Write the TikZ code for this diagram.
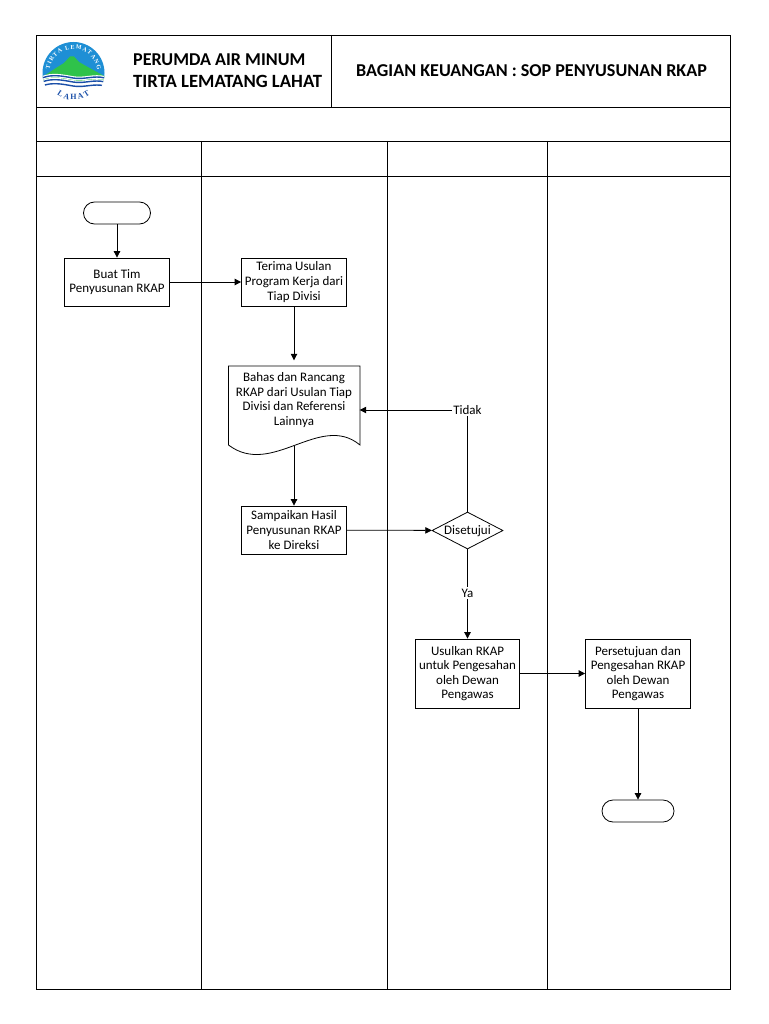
\documentclass[tikz,border=0pt]{standalone}
\usepackage{fontspec}
\setmainfont{Carlito}
\newfontfamily\logofont{Liberation Serif}
\usetikzlibrary{shapes.geometric,shapes.misc,arrows.meta,decorations.text}
\definecolor{logoblue}{HTML}{1E8FD5}
\definecolor{logogreen}{HTML}{2FC24A}
\definecolor{wavedark}{HTML}{1A4FA8}
\tikzset{
  grid/.style={draw=black,line width=0.8pt},
  flowbox/.style={draw=black,line width=0.8pt,fill=white,align=center,inner sep=0pt,font=\fontsize{13}{14.6}\selectfont,execute at begin node={\vspace*{2pt}}},
  terminal/.style={draw=black,line width=0.8pt,fill=white,rounded rectangle,inner sep=0pt},
  flowlabel/.style={inner sep=1.5pt,font=\fontsize{13}{14.6}\selectfont},
  link/.style={draw=black,line width=0.8pt},
  flow/.style={link,-{Triangle[length=6.5pt,width=6.5pt]}},
  head/.style={inner sep=0pt,font=\fontsize{18.1}{21}\bfseries\selectfont,anchor=west}
}
\begin{document}
\begin{tikzpicture}[x=1pt,y=-1pt]
\useasboundingbox (0,0) rectangle (768,1024);
\fill[white] (0,0) rectangle (768,1024);
% table
\draw[grid] (36.5,35) rectangle (730.5,989);
\draw[grid] (36.5,107) -- (730.5,107);
\draw[grid] (36.5,141) -- (730.5,141);
\draw[grid] (36.5,176) -- (730.5,176);
\draw[grid] (331,35) -- (331,107);
\draw[grid] (201,141) -- (201,989);
\draw[grid] (387,141) -- (387,989);
\draw[grid] (547,141) -- (547,989);
% logo
\begin{scope}
\clip (73.5,73) circle[radius=31pt];
\fill[logoblue] (40,40) rectangle (108,78);
\fill[logogreen] (42,77) -- (47,74) -- (56,68) -- (64,63) -- (70,56.5) -- (74,56.5) -- (79,62) -- (86,66) -- (95,71) -- (106,77) -- (106,81) -- (42,81) -- cycle;
\foreach \yy in {78,82,86}{
  \draw[white,line width=3.6pt] (42,\yy) .. controls (52,\yy-4) and (62,\yy-2) .. (73,\yy) .. controls (84,\yy+2) and (94,\yy-3) .. (105,\yy);
  \draw[wavedark,line width=1.4pt] (42,\yy) .. controls (52,\yy-4) and (62,\yy-2) .. (73,\yy) .. controls (84,\yy+2) and (94,\yy-3) .. (105,\yy);
}
\end{scope}
\path[postaction={decorate,decoration={text along path,text align={fit to path},text={|\fontsize{6}{7}\logofont\bfseries\color{white}|TIRTA LEMATANG}}}]
  (73.5,73) ++(172:24pt) arc[start angle=172,end angle=8,radius=24pt];
\path[postaction={decorate,decoration={text along path,text align={fit to path},text={|\fontsize{8}{8}\logofont\bfseries\color{wavedark}|LAHAT}}}]
  (73.5,73) ++(232:27pt) arc[start angle=232,end angle=308,radius=27pt];
% header
\node[head] (h1) at (133,60) {PERUMDA AIR MINUM};
\node[head,font=\fontsize{18.7}{21}\bfseries\selectfont] (h2) at (133,81) {TIRTA LEMATANG LAHAT};
\node[head] (h3) at (356,70.5) {BAGIAN KEUANGAN : SOP PENYUSUNAN RKAP};
% flow nodes
\node[terminal,minimum width=67pt,minimum height=22pt] (start) at (117,213) {};
\node[flowbox,minimum width=105pt,minimum height=48pt] (buat) at (117,282) {Buat Tim\\Penyusunan RKAP};
\node[flowbox,minimum width=105pt,minimum height=48pt] (terima) at (294,282) {Terima Usulan\\Program Kerja dari\\Tiap Divisi};
\draw[link,fill=white] (228.5,366) -- (360,366) -- (360,445) .. controls (320,412) and (272,478) .. (228.5,445) -- cycle;
\coordinate (docbase) at (294,446);
\node[align=center,inner sep=0pt,minimum width=131pt,minimum height=79pt,font=\fontsize{13}{14.6}\selectfont] (doc) at (294,400) {Bahas dan Rancang\\RKAP dari Usulan Tiap\\Divisi dan Referensi\\Lainnya};
\node[flowbox,minimum width=105pt,minimum height=48pt] (samp) at (294,530) {Sampaikan Hasil\\Penyusunan RKAP\\ke Direksi};
\node[diamond,draw=black,line width=0.8pt,fill=white,aspect=1.92,inner sep=0pt,minimum width=71pt,minimum height=37pt,font=\fontsize{13}{14.6}\selectfont,execute at begin node={\rule{0pt}{9.5pt}}] (dis) at (467.5,530.5) {Disetujui};
\node[flowlabel] (tidak) at (467.5,410) {Tidak};
\node[flowlabel] (ya) at (467.5,593) {Ya};
\node[flowbox,minimum width=104pt,minimum height=69pt] (usul) at (467.5,673.5) {Usulkan RKAP\\untuk Pengesahan\\oleh Dewan\\Pengawas};
\node[flowbox,minimum width=105pt,minimum height=69pt] (setuju) at (638,673.5) {Persetujuan dan\\Pengesahan RKAP\\oleh Dewan\\Pengawas};
\node[terminal,minimum width=72pt,minimum height=22pt] (end) at (638,811) {};
% connectors
\draw[flow] (start) -- (buat);
\draw[flow] (buat) -- (terima);
\draw[flow] (terima) -- (doc.north);
\draw[flow] (docbase) -- (samp.north);
\draw[flow] (samp) -- (dis);
\draw[link] (dis) -- (tidak);
\draw[flow] (tidak.west) -- (tidak.west -| doc.east);
\draw[link] (dis) -- (ya);
\draw[flow] (ya) -- (usul);
\draw[flow] (usul) -- (setuju);
\draw[flow] (setuju) -- (end);
\end{tikzpicture}
\end{document}
